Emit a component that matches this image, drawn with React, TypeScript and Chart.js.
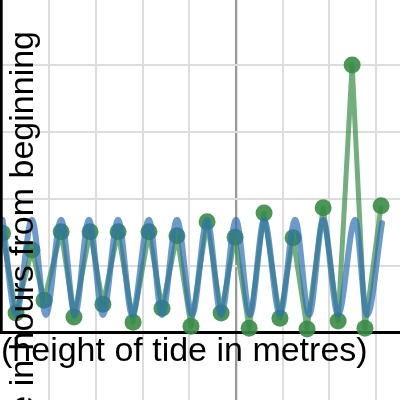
import { useEffect, useRef } from "react";
import { Chart, registerables } from "chart.js";

Chart.register(...registerables);

// Observed tide readings (green points)
const hoursObserved = [0, 5.8, 12.6, 17.8, 25.1, 30.6, 37.5, 43.0, 49.5, 55.9, 62.7, 68.3, 74.7, 80.7, 87.6, 93.6, 99.6, 105.6, 112.0, 118.8, 124.4, 130.4, 137.3, 143.7, 149.7, 155.2, 162.1];
const heightObserved = [1.49, 0.30, 1.24, 0.49, 1.51, 0.24, 1.51, 0.43, 1.51, 0.16, 1.51, 0.37, 1.45, 0.10, 1.66, 0.30, 1.43, 0.07, 1.79, 0.22, 1.42, 0.06, 1.87, 0.18, 4.0, 0.07, 1.90];

// Model curve turning points (blue curve)
const hoursModel = [0, 5.8, 12.6, 18.6, 25.1, 31.0, 37.0, 43.0, 49.5, 55.5, 62.7, 68.3, 74.7, 81.2, 87.6, 93.6, 100.0, 106.0, 112.0, 118.8, 125.3, 131.3, 137.3, 143.7, 151.0, 156.1, 162.5];
const heightModel = [1.69, 0.27, 1.69, 0.27, 1.69, 0.27, 1.69, 0.27, 1.69, 0.27, 1.69, 0.27, 1.69, 0.27, 1.69, 0.27, 1.69, 0.27, 1.69, 0.27, 1.69, 0.27, 1.69, 0.27, 1.69, 0.27, 1.64];

// Grid tick values
const xGridHours = [0, 20, 40, 60, 80, 100, 120, 140, 160];
const yGridMetres = [0, 1, 2, 3, 4];
const darkGridHour = 100;

const xTitle = "(height of tide in metres)";
const yTitle = "time in hours from beginning";

const FONT = '34px "Liberation Sans", Arial, Helvetica, sans-serif';

const titlesPlugin = {
  id: "titles",
  afterDraw(chart: any) {
    const { ctx, chartArea } = chart;
    ctx.save();
    // left black axis line
    ctx.strokeStyle = "#000";
    ctx.lineWidth = 2.7;
    ctx.beginPath();
    const yZero = chart.scales.y.getPixelForValue(0);
    ctx.moveTo(chartArea.left + 1.35, chartArea.top);
    ctx.lineTo(chartArea.left + 1.35, yZero);
    ctx.stroke();

    ctx.fillStyle = "#000";
    ctx.font = FONT;
    ctx.textBaseline = "alphabetic";
    ctx.textAlign = "left";
    ctx.fillText(xTitle, 1, 361);

    ctx.translate(33, 31);
    ctx.rotate(-Math.PI / 2);
    ctx.textAlign = "right";
    ctx.fillText(yTitle, 0, 0);
    ctx.restore();
  },
};

export default function App() {
  const ref = useRef<HTMLCanvasElement | null>(null);

  useEffect(() => {
    document.body.style.margin = "0";
    const canvas = ref.current;
    if (!canvas) return;
    const chart = new Chart(canvas, {
      type: "scatter",
      data: {
        datasets: [
          {
            label: "model",
            data: hoursModel.map((x, i) => ({ x, y: heightModel[i] })),
            showLine: true,
            borderColor: "rgba(45,112,179,0.7)",
            borderWidth: 6,
            pointRadius: 0,
            cubicInterpolationMode: "monotone",
            borderCapStyle: "round",
            borderJoinStyle: "round",
            order: 0,
          },
          {
            label: "observed",
            data: hoursObserved.map((x, i) => ({ x, y: heightObserved[i] })),
            showLine: true,
            borderColor: "rgba(56,140,70,0.7)",
            borderWidth: 5,
            borderJoinStyle: "round",
            pointRadius: 8.5,
            pointBackgroundColor: "rgba(56,140,70,0.9)",
            pointBorderWidth: 0,
            pointBorderColor: "rgba(0,0,0,0)",
            order: 1,
          },
        ],
      },
      options: {
        responsive: false,
        animation: false,
        layout: { padding: 0, autoPadding: false },
        plugins: { legend: { display: false }, tooltip: { enabled: false }, title: { display: false } },
        scales: {
          x: {
            type: "linear",
            min: -1.07,
            max: 170.2,
            afterBuildTicks: (s: any) => {
              s.ticks = xGridHours.map((v) => ({ value: v }));
            },
            afterFit: (s: any) => {
              s.height = 0;
            },
            ticks: { display: false },
            border: { display: false },
            grid: {
              drawTicks: false,
              color: (c: any) => (c.tick && c.tick.value === 0 ? "rgba(0,0,0,0)" : c.tick && c.tick.value === darkGridHour ? "#999999" : "#dddddd"),
              lineWidth: (c: any) => (c.tick && c.tick.value === darkGridHour ? 2.3 : 2),
            },
          },
          y: {
            type: "linear",
            min: -1.0,
            max: 4.97,
            afterBuildTicks: (s: any) => {
              s.ticks = yGridMetres.map((v) => ({ value: v }));
            },
            afterFit: (s: any) => {
              s.width = 0;
            },
            ticks: { display: false },
            border: { display: false },
            grid: {
              drawTicks: false,
              color: (c: any) => (c.tick && c.tick.value === 0 ? "#000000" : "#dddddd"),
              lineWidth: (c: any) => (c.tick && c.tick.value === 0 ? 3 : 2),
            },
          },
        },
      },
      plugins: [titlesPlugin],
    } as any);
    return () => chart.destroy();
  }, []);

  return (
    <div style={{ width: 400, height: 400 }}>
      <canvas ref={ref} width={400} height={400} style={{ display: "block" }} />
    </div>
  );
}
